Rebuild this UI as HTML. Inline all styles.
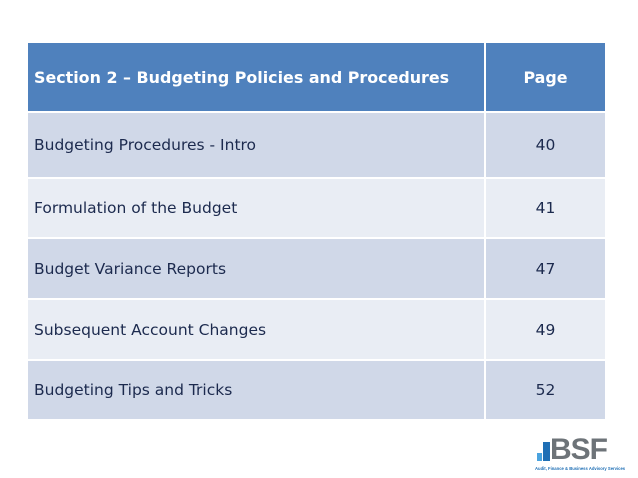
<!DOCTYPE html>
<html><head><meta charset="utf-8"><style>
body{margin:0;width:638px;height:478px;background:#fff;position:relative;overflow:hidden;font-family:"DejaVu Sans","Liberation Sans",sans-serif}
.r{position:absolute;left:28px;width:577px;display:flex}
.c1,.c2{display:flex;align-items:center;height:100%;box-sizing:border-box}
.c1{width:456px;padding-left:6px}
.c2{width:119px;margin-left:2px;justify-content:center}
.h{color:#fff;font-size:15.9px;font-weight:bold}
.h .c1,.h .c2{background:#4f81bd}
.o .c1,.o .c2{background:#d0d8e8}
.e .c1,.e .c2{background:#e9edf4}
.o,.e{color:#1c2a4e;font-size:15.5px}
</style></head><body>
<div>
<div class="r h" style="top:43px;height:68px"><div class="c1">Section 2 – Budgeting Policies and Procedures</div><div class="c2">Page</div></div>
<div class="r o" style="top:113px;height:64px"><div class="c1">Budgeting Procedures - Intro</div><div class="c2">40</div></div>
<div class="r e" style="top:179px;height:58px"><div class="c1">Formulation of the Budget</div><div class="c2">41</div></div>
<div class="r o" style="top:239px;height:59px"><div class="c1">Budget Variance Reports</div><div class="c2">47</div></div>
<div class="r e" style="top:300px;height:59px"><div class="c1">Subsequent Account Changes</div><div class="c2">49</div></div>
<div class="r o" style="top:361px;height:58px"><div class="c1">Budgeting Tips and Tricks</div><div class="c2">52</div></div>
</div>
<div style="position:absolute;left:535px;top:436px;width:72px;height:38px">
<div style="position:absolute;left:2px;top:17px;width:5px;height:8px;background:#4aa3df"></div>
<div style="position:absolute;left:8px;top:6px;width:7px;height:19px;background:#1f6fb5"></div>
<div style="position:absolute;left:15px;top:0px;font:bold 30px 'Liberation Sans',sans-serif;color:#6d7378;letter-spacing:-1px;line-height:28px">BSF</div>
<div style="position:absolute;left:0;top:30px;font:bold 4.2px 'Liberation Sans',sans-serif;color:#1f6fb5;white-space:nowrap">Audit, Finance &amp; Business Advisory Services</div>
</div>
</body></html>
